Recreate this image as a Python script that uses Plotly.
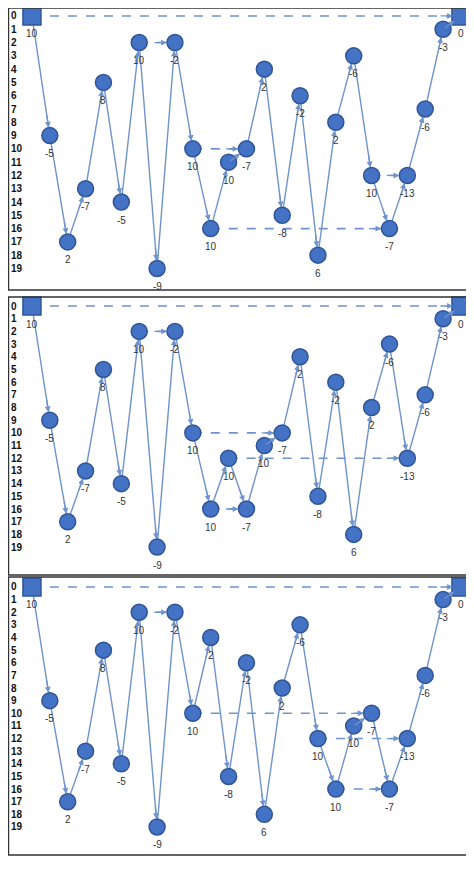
import plotly.graph_objects as go
import math

# ---------- data ----------
y1 = [0, 9, 17, 13, 5, 14, 2, 19, 2, 10, 16, 11, 10, 4, 15, 6, 18, 8, 3, 12, 16, 12, 7, 1, 0]
l1 = ["10", "-5", "2", "-7", "8", "-5", "10", "-9", "-2", "10", "10", "10", "-7", "2", "-8", "-2", "6", "2", "-6", "10", "-7", "-13", "-6", "-3", "0"]
d1 = [(0, 24), (6, 8), (9, 12), (10, 20), (19, 21)]

y2 = [0, 9, 17, 13, 5, 14, 2, 19, 2, 10, 16, 12, 16, 11, 10, 4, 15, 6, 18, 8, 3, 12, 7, 1, 0]
l2 = ["10", "-5", "2", "-7", "8", "-5", "10", "-9", "-2", "10", "10", "10", "-7", "10", "-7", "2", "-8", "-2", "6", "2", "-6", "-13", "-6", "-3", "0"]
d2 = [(0, 24), (6, 8), (9, 14), (10, 12), (11, 21)]

y3 = [0, 9, 17, 13, 5, 14, 2, 19, 2, 10, 4, 15, 6, 18, 8, 3, 12, 16, 11, 10, 16, 12, 7, 1, 0]
l3 = ["10", "-5", "2", "-7", "8", "-5", "10", "-9", "-2", "10", "2", "-8", "-2", "6", "2", "-6", "10", "10", "10", "-7", "-7", "-13", "-6", "-3", "0"]
d3 = [(0, 24), (6, 8), (9, 19), (16, 21), (17, 20)]

ticks = list(range(20))

W, H = 466, 863
panels = [
    (y1, l1, d1, 0, 282, -0.6, 20.62),
    (y2, l2, d2, 289, 567, -0.71, 21.2),
    (y3, l3, d3, 569, 847, -0.79, 21.22),
]
xr = [-1.34, 24.73]
sx = W / (xr[1] - xr[0])

LINE = "#6f93cc"
FILL = "#4472c4"
EDGE = "#2f5597"
TF = dict(size=10, color="#111", family="Liberation Sans")

fig = go.Figure()
annots = []
shapes = []
layout = {}
for i, (ys, labs, dsh, ptop, pbot, ytop, ybot) in enumerate(panels):
    n = i + 1
    xa = "x" if n == 1 else f"x{n}"
    ya = "y" if n == 1 else f"y{n}"
    xs = list(range(len(ys)))
    sy = (pbot - ptop) / (ybot - ytop)
    layout["xaxis" if n == 1 else f"xaxis{n}"] = dict(
        domain=[0, 1], range=xr, visible=False, anchor=ya)
    layout["yaxis" if n == 1 else f"yaxis{n}"] = dict(
        domain=[1 - pbot / H, 1 - ptop / H], range=[ybot, ytop], anchor=xa,
        tickvals=ticks, ticktext=[f"<b>{t}</b>" for t in ticks], ticklabelposition="inside",
        showgrid=False, zeroline=False, showline=False, ticks="", tickfont=TF)
    for a, b in dsh:
        fig.add_trace(go.Scatter(x=[xs[a], xs[b]], y=[ys[a], ys[b]], mode="lines",
                                 line=dict(color=LINE, width=1.6, dash="dash"), cliponaxis=False,
                                 xaxis=xa, yaxis=ya, hoverinfo="skip", showlegend=False))
    fig.add_trace(go.Scatter(x=xs, y=ys, mode="lines", line=dict(color=LINE, width=1.4),
                             xaxis=xa, yaxis=ya, hoverinfo="skip", showlegend=False, cliponaxis=False))
    edges = [(k, k + 1) for k in range(len(ys) - 1)] + list(dsh)
    for a, b in edges:
        dxp = (xs[a] - xs[b]) * sx
        dyp = (ys[a] - ys[b]) * sy
        L = math.hypot(dxp, dyp)
        annots.append(dict(x=xs[b], y=ys[b], xref=xa, yref=ya, ax=dxp / L * 22, ay=dyp / L * 22,
                           showarrow=True, arrowhead=2, arrowsize=0.9, arrowwidth=1.3,
                           arrowcolor=LINE, standoff=8, text=""))
    for x, y, t in zip(xs, ys, labs):
        annots.append(dict(x=x, y=y, xref=xa, yref=ya, text=t, showarrow=False, yshift=-18,
                           font=dict(size=10, color="#333", family="Liberation Sans")))
    sym = ["square"] + ["circle"] * (len(ys) - 2) + ["square"]
    fig.add_trace(go.Scatter(x=xs, y=ys, mode="markers", opacity=1, cliponaxis=False,
                             marker=dict(size=[18] + [16] * (len(ys) - 2) + [18], symbol=sym,
                                         color=FILL, opacity=1, line=dict(color=EDGE, width=1.5)),
                             xaxis=xa, yaxis=ya, hoverinfo="skip", showlegend=False))
    shapes.append(dict(type="rect", xref="paper", yref="paper", x0=0.001, x1=0.999,
                       y0=1 - pbot / H, y1=1 - ptop / H, line=dict(color="#333", width=1.5)))

fig.update_layout(width=W, height=H, margin=dict(l=0, r=0, t=0, b=0),
                  plot_bgcolor="white", paper_bgcolor="white",
                  annotations=annots, shapes=shapes, **layout)
fig.write_html("out.html")
